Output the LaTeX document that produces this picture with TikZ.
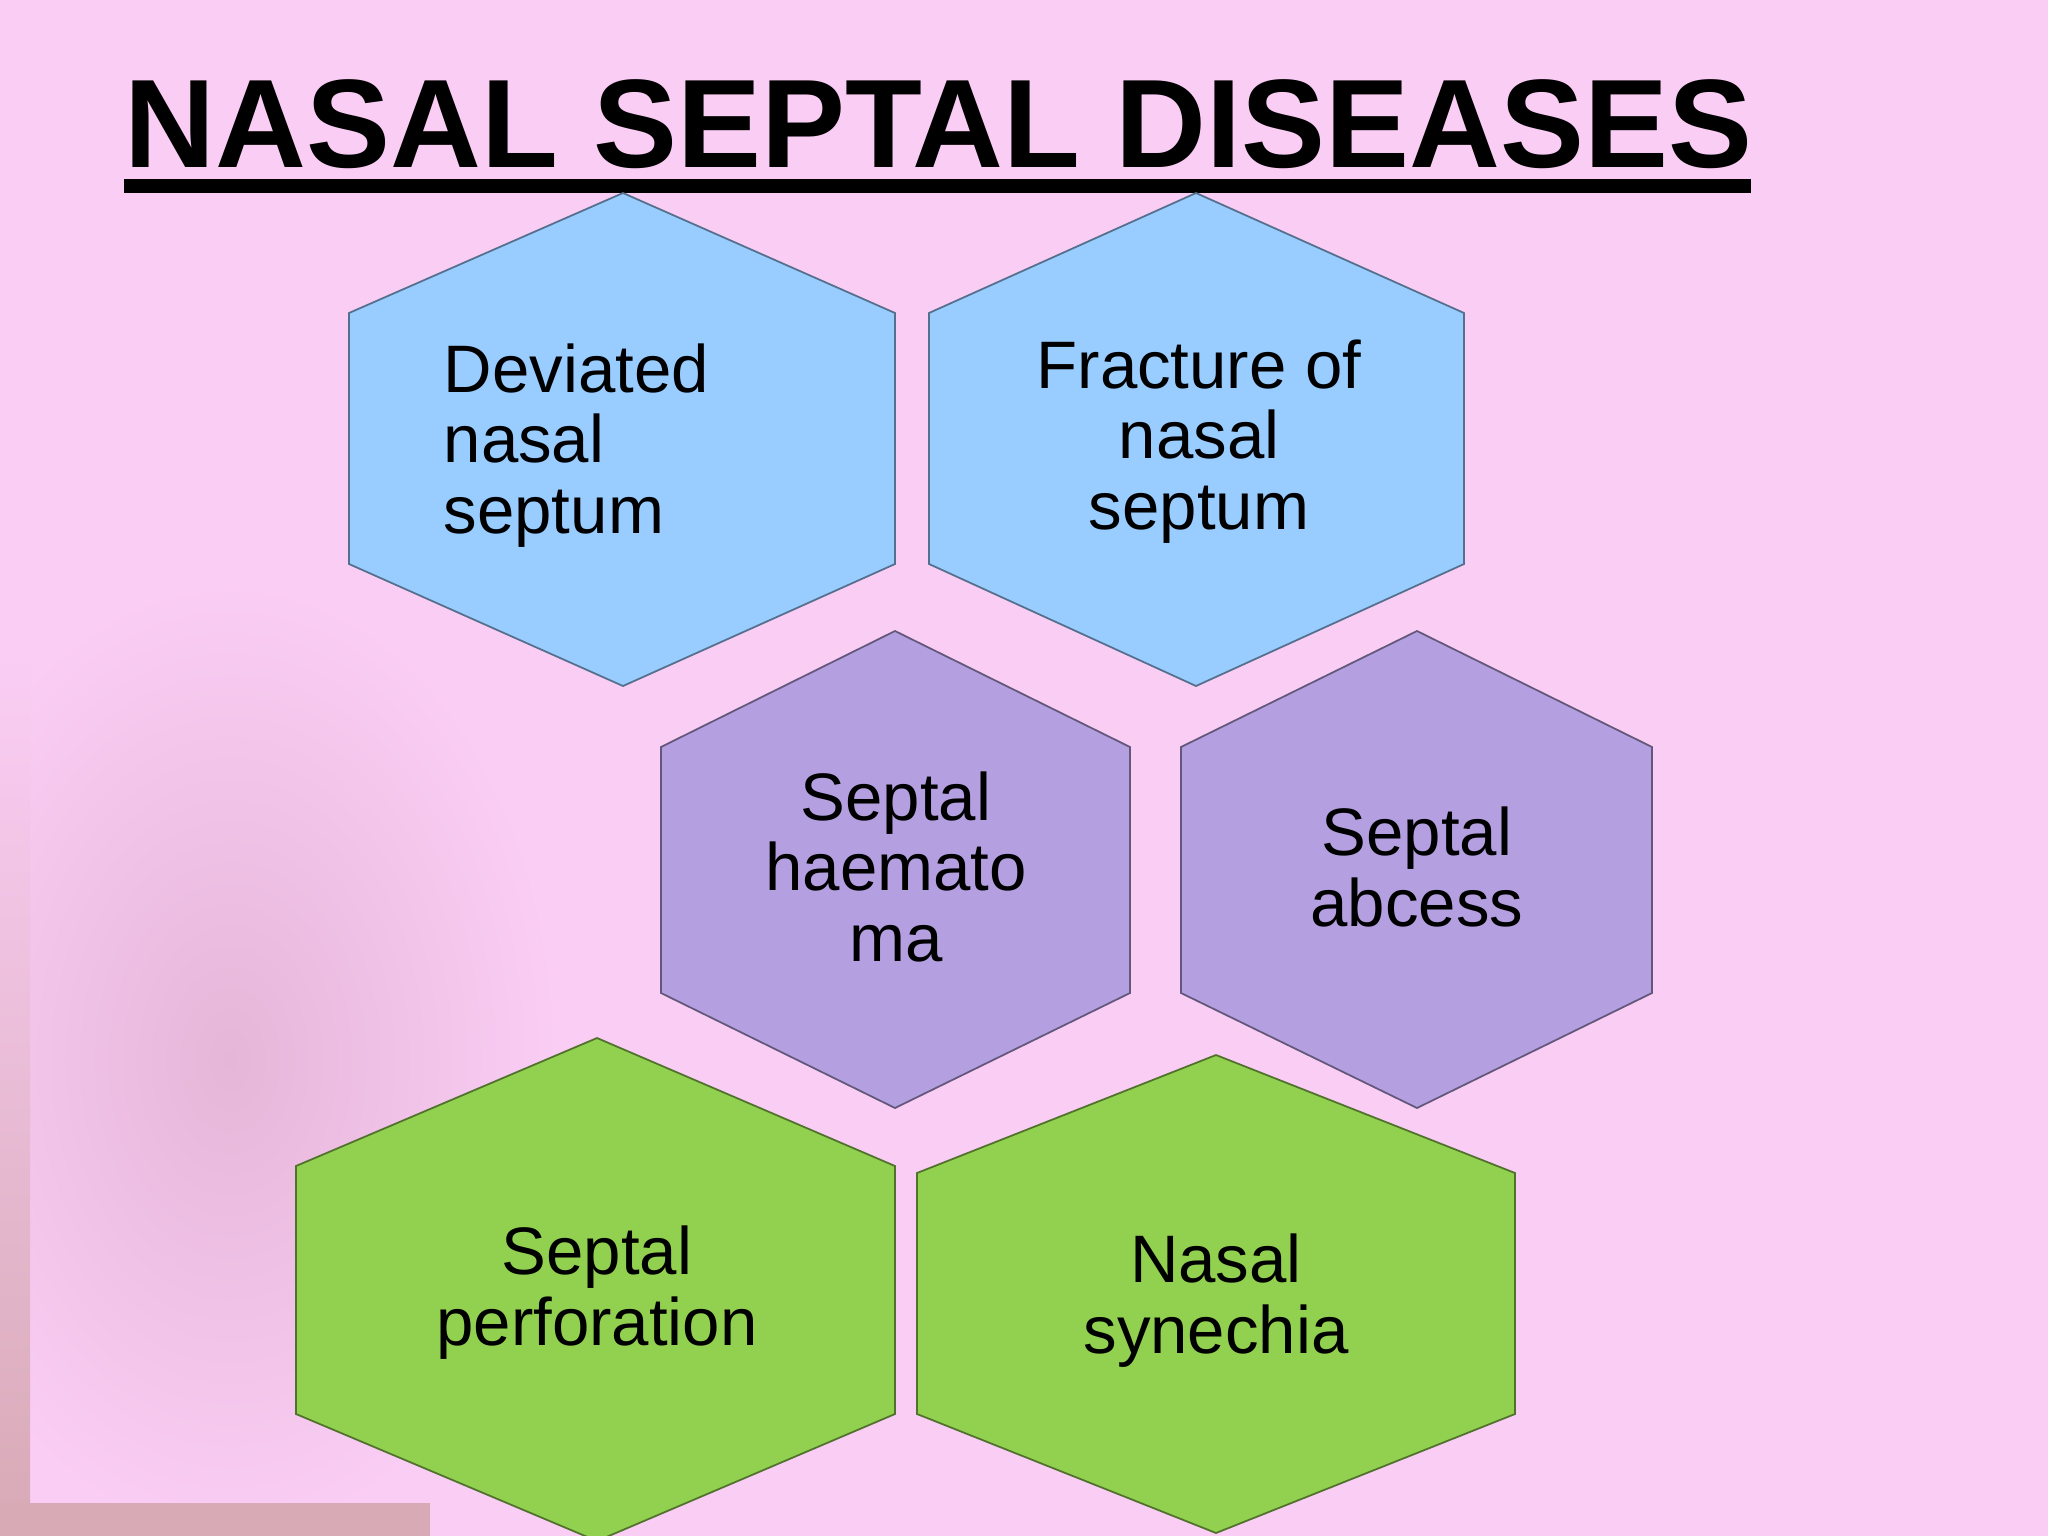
\documentclass[tikz,border=0pt]{standalone}
\usepackage{fontspec}
\setmainfont{Liberation Sans}

\definecolor{bgpink}{RGB}{250,205,245}
\definecolor{bgdusty}{RGB}{216,170,182}
\definecolor{bgmauve}{RGB}{230,182,216}
\definecolor{hexblue}{RGB}{153,204,255}
\definecolor{hexpurple}{RGB}{180,160,224}
\definecolor{hexgreen}{RGB}{146,208,80}

\tikzset{
    bluecell/.style={fill=hexblue, draw=hexblue!55!black, line width=0.5pt},
    purplecell/.style={fill=hexpurple, draw=hexpurple!55!black, line width=0.5pt},
    greencell/.style={fill=hexgreen, draw=hexgreen!55!black, line width=0.5pt},
    celltext/.style={font=\fontsize{19.1}{20}\selectfont, text=black, inner sep=0pt}
}

\begin{document}
\begin{tikzpicture}[x=0.01cm, y=-0.01cm]
    % Background of the slide
    \useasboundingbox (0,0) rectangle (2048,1536);
    \fill[bgpink] (0,0) rectangle (2048,1536);
    \shade[inner color=bgmauve, outer color=bgpink] (230,1060) ellipse (330 and 480);
    \shade[top color=bgpink, bottom color=bgdusty] (0,650) rectangle (30,1536);
    \fill[bgdusty] (0,1503) rectangle (430,1536);

    % Title
    \node[anchor=base west, inner sep=0pt, font=\fontsize{35.8}{40}\selectfont\bfseries] (title) at (124,167) {NASAL SEPTAL DISEASES};
    \fill[black] (124,179) rectangle (1751,193);

% top row: blue cells
\draw[bluecell] (623,193) -- (895,313) -- (895,564) -- (623,686) -- (349,564) -- (349,313) -- cycle;
\node[celltext, anchor=base west, align=left] (deviated) at (443,533) {Deviated\\nasal\\septum};

\draw[bluecell] (1196,193) -- (1464,313) -- (1464,564) -- (1196,686) -- (929,564) -- (929,313) -- cycle;
\node[celltext, anchor=base, align=center] (fracture) at (1199,529) {Fracture of\\nasal\\septum};

% middle row: purple cells
\draw[purplecell] (895,631) -- (1130,747) -- (1130,993) -- (895,1108) -- (661,993) -- (661,747) -- cycle;
\node[celltext, anchor=base, align=center] (haematoma) at (896,961) {Septal\\haemato\\ma};

\draw[purplecell] (1417,631) -- (1652,747) -- (1652,993) -- (1417,1108) -- (1181,993) -- (1181,747) -- cycle;
\node[celltext, anchor=base, align=center] (abcess) at (1417,926) {Septal\\abcess};

% bottom row: green cells
\draw[greencell] (597,1038) -- (895,1166) -- (895,1414) -- (597,1541) -- (296,1414) -- (296,1166) -- cycle;
\node[celltext, anchor=base, align=center] (perforation) at (597,1345) {Septal\\perforation};

\draw[greencell] (1216,1055) -- (1515,1173) -- (1515,1414) -- (1216,1533) -- (917,1414) -- (917,1173) -- cycle;
\node[celltext, anchor=base, align=center] (synechia) at (1216,1353) {Nasal\\synechia};
\end{tikzpicture}
\end{document}
